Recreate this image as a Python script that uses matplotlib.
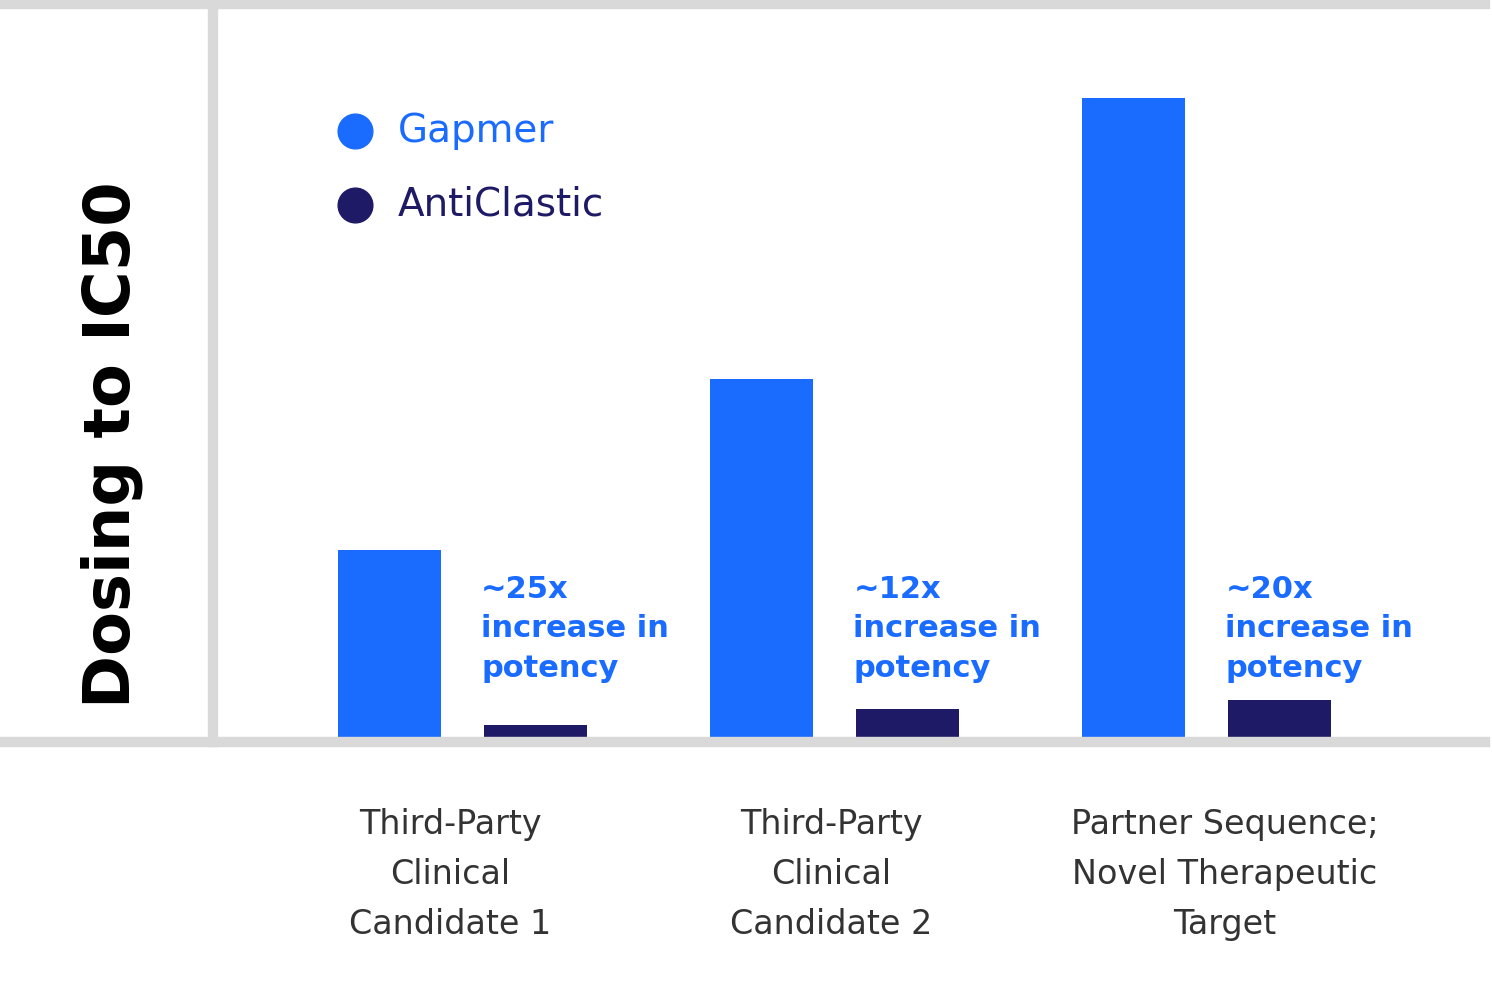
import matplotlib.pyplot as plt
from matplotlib.lines import Line2D
import numpy as np

categories = ['Third-Party\nClinical\nCandidate 1', 'Third-Party\nClinical\nCandidate 2',
              'Partner Sequence;\nNovel Therapeutic\nTarget']
gapmer = [188, 359, 640]
anticlastic = [13, 29, 38]
notes = ['~25x', '~12x', '~20x']

BLUE = '#1a6bff'
NAVY = '#1f1a66'
GRAY = '#d9d9d9'
W, H = 1492, 1002

fig = plt.figure(figsize=(W / 100, H / 100), dpi=100)
ax = fig.add_axes([213 / W, (H - 738) / H, (1485 - 213) / W, 734 / H])
x = np.arange(len(categories))
ax.bar(x - 0.196, gapmer, width=0.277, color=BLUE)
ax.bar(x + 0.196, anticlastic, width=0.277, color=NAVY)
ax.set_xlim(-0.671, 2.748)
ax.set_ylim(0, 734)
ax.axis('off')

for i, n in enumerate(notes):
    ax.text(i + 0.05, 734 - 575 + 4, n + '\nincrease in\npotency', color=BLUE, fontsize=22,
            fontweight='bold', va='top', ha='left', linespacing=1.45,
            transform=ax.transData)

# frame lines
for xs, ys in [((0, 1485), (742, 742)), ((0, 1485), (4, 4)), ((213, 213), (4, 742))]:
    fig.add_artist(Line2D([v / W for v in xs], [1 - v / H for v in ys], color=GRAY, lw=7.5))

# category labels
for cx, lab in zip([450, 831, 1225], categories):
    fig.text(cx / W, 1 - 808 / H, lab, ha='center', va='top', fontsize=24,
             color='#333333', linespacing=1.65)

# legend
for cy, lab, c in [(131, 'Gapmer', BLUE), (205, 'AntiClastic', NAVY)]:
    fig.add_artist(Line2D([355 / W], [1 - cy / H], marker='o', ms=25, color=c, lw=0))
    fig.text(398 / W, 1 - cy / H, lab, color=c, fontsize=28, va='center', ha='left')

fig.text(112 / W, 1 - 445 / H, 'Dosing to IC50', rotation=90, fontsize=46,
         fontweight='bold', ha='center', va='center', color='black')

fig.savefig('out.png', dpi=100)
